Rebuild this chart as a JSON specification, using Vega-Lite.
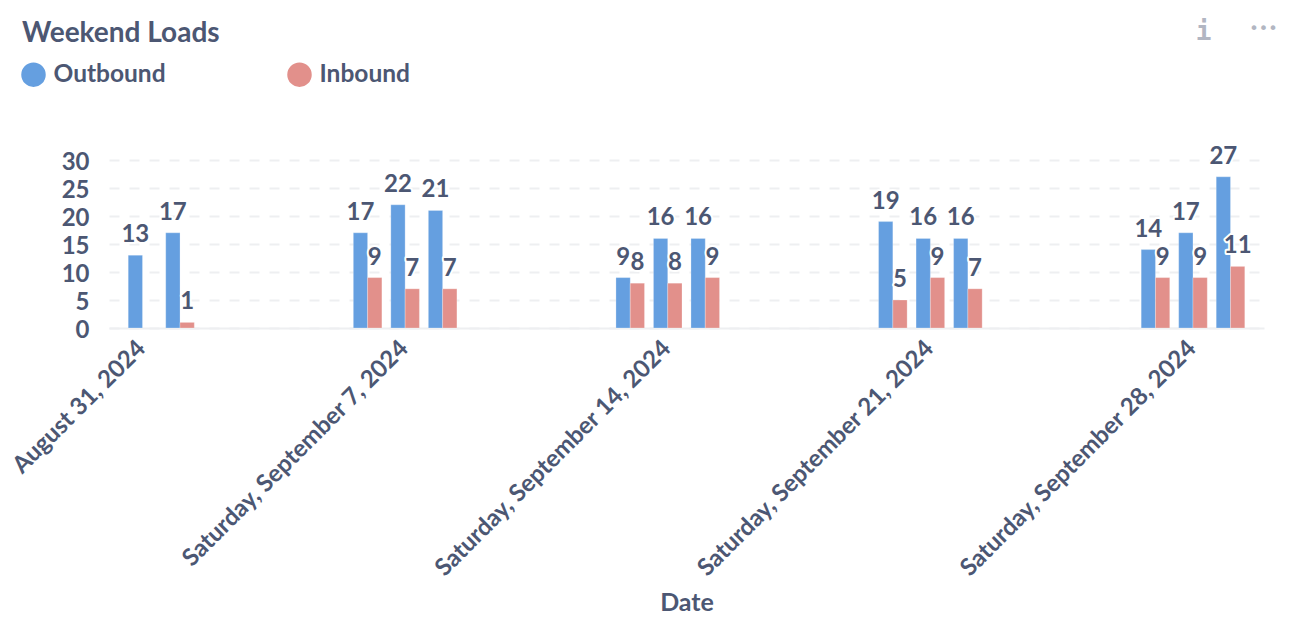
{
"$schema":"https://vega.github.io/schema/vega-lite/v6.json",
"width":1155,"height":168,
"autosize":{"type":"none"},
"padding":{"left":109,"top":160,"right":40,"bottom":312},
"background":"white",
"title":{"text":"Weekend Loads","anchor":"start","frame":"group","dx":-87,"offset":-29,"font":"Lato","fontSize":28,"fontWeight":"bold","color":"#4C5773"},
"config":{"view":{"stroke":null},"text":{"font":"Lato"}},
"datasets":{"loads":[
{"Date":"2024-08-31","Series":"Outbound","Count":13},
{"Date":"2024-09-01","Series":"Outbound","Count":17},
{"Date":"2024-09-01","Series":"Inbound","Count":1},
{"Date":"2024-09-06","Series":"Outbound","Count":17},
{"Date":"2024-09-06","Series":"Inbound","Count":9},
{"Date":"2024-09-07","Series":"Outbound","Count":22},
{"Date":"2024-09-07","Series":"Inbound","Count":7},
{"Date":"2024-09-08","Series":"Outbound","Count":21},
{"Date":"2024-09-08","Series":"Inbound","Count":7},
{"Date":"2024-09-13","Series":"Outbound","Count":9},
{"Date":"2024-09-13","Series":"Inbound","Count":8},
{"Date":"2024-09-14","Series":"Outbound","Count":16},
{"Date":"2024-09-14","Series":"Inbound","Count":8},
{"Date":"2024-09-15","Series":"Outbound","Count":16},
{"Date":"2024-09-15","Series":"Inbound","Count":9},
{"Date":"2024-09-20","Series":"Outbound","Count":19},
{"Date":"2024-09-20","Series":"Inbound","Count":5},
{"Date":"2024-09-21","Series":"Outbound","Count":16},
{"Date":"2024-09-21","Series":"Inbound","Count":9},
{"Date":"2024-09-22","Series":"Outbound","Count":16},
{"Date":"2024-09-22","Series":"Inbound","Count":7},
{"Date":"2024-09-27","Series":"Outbound","Count":14},
{"Date":"2024-09-27","Series":"Inbound","Count":9},
{"Date":"2024-09-28","Series":"Outbound","Count":17},
{"Date":"2024-09-28","Series":"Inbound","Count":9},
{"Date":"2024-09-29","Series":"Outbound","Count":27},
{"Date":"2024-09-29","Series":"Inbound","Count":11}
]},
"data":{"name":"loads"},
"encoding":{
"x":{"field":"Date","type":"ordinal","sort":null,
"scale":{"domain":["2024-08-31","2024-09-01","2024-09-02","2024-09-03","2024-09-04","2024-09-05","2024-09-06","2024-09-07","2024-09-08","2024-09-09","2024-09-10","2024-09-11","2024-09-12","2024-09-13","2024-09-14","2024-09-15","2024-09-16","2024-09-17","2024-09-18","2024-09-19","2024-09-20","2024-09-21","2024-09-22","2024-09-23","2024-09-24","2024-09-25","2024-09-26","2024-09-27","2024-09-28","2024-09-29"],"paddingInner":0,"paddingOuter":0.393},
"axis":{"title":"Date","values":["2024-08-31","2024-09-07","2024-09-14","2024-09-21","2024-09-28"],
"labelExpr":"datum.value == '2024-08-31' ? 'August 31, 2024' : utcFormat(toDate(datum.value), '%A, %B %-d, %Y')",
"labelAngle":-45,"labelAlign":"right","labelBaseline":"top","labelPadding":8,"labelOffset":-9,"labelFont":"Lato","labelFontSize":24,"labelFontWeight":"bold","labelColor":"#4C5773","labelOverlap":false,"labelLimit":0,"labelBound":false,"labelFlush":false,
"titleFont":"Lato","titleFontSize":25,"titleFontWeight":"bold","titleColor":"#4C5773","titlePadding":62,
"ticks":false,"domain":true,"domainColor":"#EEEFF1","domainWidth":2,"grid":false}},
"xOffset":{"field":"Series","type":"nominal","sort":null,"scale":{"domain":["Outbound","Inbound"],"paddingInner":0,"paddingOuter":0.313}},
"y":{"field":"Count","type":"quantitative","scale":{"domain":[0,30],"nice":false},
"axis":{"title":null,"values":[0,5,10,15,20,25,30],"labelFont":"Lato","labelFontSize":24,"labelFontWeight":"bold","labelColor":"#4C5773","labelPadding":20,"labelOffset":2,"ticks":false,"domain":false,"grid":true,"gridColor":"#EEEFF1","gridWidth":2,"gridDash":[10,10]}}
},
"layer":[
{"mark":{"type":"bar","stroke":"#FFFFFF","strokeOpacity":0.25,"strokeWidth":1},
"encoding":{"color":{"field":"Series","type":"nominal","scale":{"domain":["Outbound","Inbound"],"range":["#659FE0","#E2908B"]},
"legend":{"title":null,"orient":"none","legendX":-88,"legendY":-98,"direction":"horizontal","symbolType":"circle","symbolSize":600,"symbolStrokeWidth":0,"symbolOpacity":1,"labelFont":"Lato","labelFontSize":24.5,"labelFontWeight":"bold","labelColor":"#4C5773","labelOffset":7.5,"columnPadding":121,"labelLimit":200}}}},
{"mark":{"type":"text","dy":-13,"baseline":"alphabetic","align":"center","fontSize":24,"fontWeight":"bold","stroke":"#FFFFFF","strokeWidth":4,"strokeJoin":"round","fill":"#FFFFFF"},
"encoding":{"text":{"field":"Count","type":"quantitative"}}},
{"mark":{"type":"text","dy":-13,"baseline":"alphabetic","align":"center","fontSize":24,"fontWeight":"bold","fill":"#4C5773"},
"encoding":{"text":{"field":"Count","type":"quantitative"}}},
{"data":{"values":[{"Date":"2024-09-29","Count":30,"icon":"i"}]},
"mark":{"type":"text","font":"DejaVu Sans Mono","fontSize":26,"fontWeight":"bold","fill":"#B2B6C2","dx":-27,"dy":-120,"baseline":"alphabetic"},
"encoding":{"xOffset":null,"text":{"field":"icon","type":"nominal"}}},
{"data":{"values":[{"Date":"2024-09-29","Count":30,"icon":"•••"}]},
"mark":{"type":"text","font":"DejaVu Sans","fontSize":16,"fill":"#B2B6C2","dx":33,"dy":-131,"baseline":"middle"},
"encoding":{"xOffset":null,"text":{"field":"icon","type":"nominal"}}}
]
}
